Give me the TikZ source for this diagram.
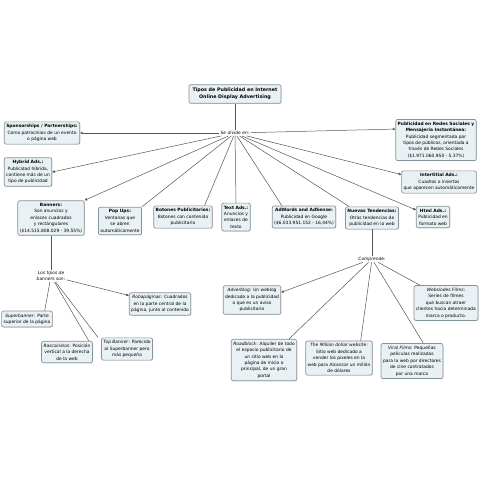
\documentclass[tikz,border=0pt]{standalone}
\usepackage{fontspec}
\setmainfont{DejaVu Sans}
\usetikzlibrary{arrows.meta,shadows}
\definecolor{boxfill}{HTML}{E9F1F4}
\definecolor{boxline}{HTML}{85939A}
\definecolor{linkgray}{HTML}{555555}
\begin{document}
\begin{tikzpicture}[x=1pt,y=-1pt,
  concept/.style={draw=boxline, fill=boxfill, rounded corners=2pt, line width=0.7pt,
    align=center, inner xsep=2pt, inner ysep=2.6pt, font=\fontsize{4.4}{6.4}\selectfont,
    drop shadow={opacity=0.25, shadow xshift=0.6pt, shadow yshift=-0.6pt}},
  phrase/.style={align=center, inner sep=1pt, fill=white, font=\fontsize{4.4}{6.2}\selectfont\itshape},
  link/.style={draw=linkgray, line width=0.5pt},
  tip/.style={link, -{Triangle[length=2.6pt,width=2.6pt]}}]
\useasboundingbox (0,0) rectangle (480,480);
% concepto principal
\node[concept, font=\fontsize{4.8}{6.8}\selectfont\bfseries, inner sep=3.6pt] (main) at (235,94)
  {Tipos de Publicidad en Internet\\Online Display Advertising};
\node[phrase] (divide) at (235,133) {Se divide en:};
% primer nivel
\node[concept] (spon) at (42,133) {\textbf{Sponsorships / Partnerships:}\\Como patrocinios de un evento\\o página web};
\node[concept] (hybrid) at (28,172) {\textbf{Hybrid Ads.:}\\Publicidad híbrida,\\contiene más de un\\tipo de publicidad};
\node[concept] (banners) at (51,218) {\textbf{Banners:}\\Son anuncios y\\enlaces cuadrados\\y rectángulares\\(\$14.515.808.029 - 39.55\%)};
\node[concept] (popups) at (120,221) {\textbf{Pop Ups:}\\Ventanas que\\se abren\\automáticamente};
\node[concept] (botones) at (183,217) {\textbf{Botones Publicitarios:}\\Botones con contenido\\publicitario};
\node[concept] (textads) at (236,217) {\textbf{Text Ads.:}\\Anuncios y\\enlaces de\\texto};
\node[concept] (adwords) at (304,217) {\textbf{AdWords and AdSense:}\\Publicidad en Google\\(\$6.033.951.152 - 16,44\%)};
\node[concept] (nuevas) at (372,218) {\textbf{Nuevas Tendencias:}\\Otras tendencias de\\publicidad en la web};
\node[concept] (html) at (433,217) {\textbf{Html Ads.:}\\Publicidad en\\formato web};
\node[concept] (inter) at (439,182) {\textbf{Intertitial Ads.:}\\Cuadros o insertos\\que aparecen automáticamente};
\node[concept] (redes) at (436,140) {\textbf{Publicidad en Redes Sociales y}\\\textbf{Mensajería Instantánea:}\\Publicidad segmentada por\\tipos de públicos, orientada a\\través de Redes Sociales\\(\$1.971.060.950 - 5.37\%)};
% tipos de banners
\node[phrase] (tipos) at (51,276) {Los tipos de\\banners son:};
\node[concept] (super) at (27,319) {\textit{Superbanner}: Parte\\superior de la página};
\node[concept] (rasca) at (67,352) {\textit{Rascacielos}: Posición\\vertical a la derecha\\de la web};
\node[concept] (topb) at (127,349) {\textit{Top Banner}: Parecido\\al Superbanner pero\\más pequeño};
\node[concept] (roba) at (160,304) {\textit{Robapáginas}: Cuadrados\\en la parte central de la\\página, junto al contenido};
% nuevas tendencias
\node[phrase] (comp) at (372,259) {Comprende:};
\node[concept] (adver) at (252,300) {\textit{Adverblog}: Un weblog\\dedicado a la publicidad\\o que es un aviso\\publicitario};
\node[concept] (road) at (264,360) {\textit{Roadblock}: Alquiler de todo\\el espacio publicitario de\\un sitio web en la\\página de inicio o\\principal, de un gran\\portal};
\node[concept] (million) at (339,358) {\textit{The Million dollar website}:\\Sitio web dedicado a\\vender los pixeles en la\\web para Alcanzar un millón\\de dólares};
\node[concept] (viral) at (412,361) {\textit{Viral Films}: Pequeñas\\películas realizadas\\para la web por directores\\de cine contratados\\por una marca};
\node[concept] (webis) at (446,303) {\textit{Websiodes Films}:\\Series de filmes\\que buscan atraer\\clientes hacia determinada\\marca o producto.};
% conectores
\draw[link] (main) -- (divide);
\draw[tip] (divide) -- (spon.east);
\draw[tip] (divide) -- (hybrid.east);
\draw[tip] (divide) -- (banners.north east);
\draw[link] (divide) -- (popups.north east);
\draw[link] (divide) -- ([xshift=-8pt]botones.north east);
\draw[link] (divide) -- (textads.north);
\draw[link] (divide) -- ([xshift=10pt]adwords.north west);
\draw[link] (divide) -- ([xshift=4pt]nuevas.north west);
\draw[tip] (divide) -- ([yshift=-4pt]html.north west);
\draw[tip] (divide) -- ([yshift=-4pt]inter.north west);
\draw[tip] (divide) -- ([yshift=-10pt]redes.north west);
\draw[link] (banners) -- (tipos);
\draw[link] (tipos) -- ([xshift=-8pt]super.north east);
\draw[link] (tipos) -- ([xshift=-4pt]rasca.north east);
\draw[link] (tipos) -- ([xshift=-3pt]topb.north west);
\draw[tip] (tipos) -- ([yshift=-3pt]roba.north west);
\draw[link] (nuevas) -- (comp);
\draw[tip] (comp) -- ([yshift=-7pt]adver.north east);
\draw[link] (comp) -- ([xshift=-8pt]road.north east);
\draw[link] (comp) -- ([xshift=-12pt]million.north east);
\draw[link] (comp) -- ([xshift=-20pt]viral.north east);
\draw[link] (comp) -- ([xshift=6pt]webis.north west);
\end{tikzpicture}
\end{document}
